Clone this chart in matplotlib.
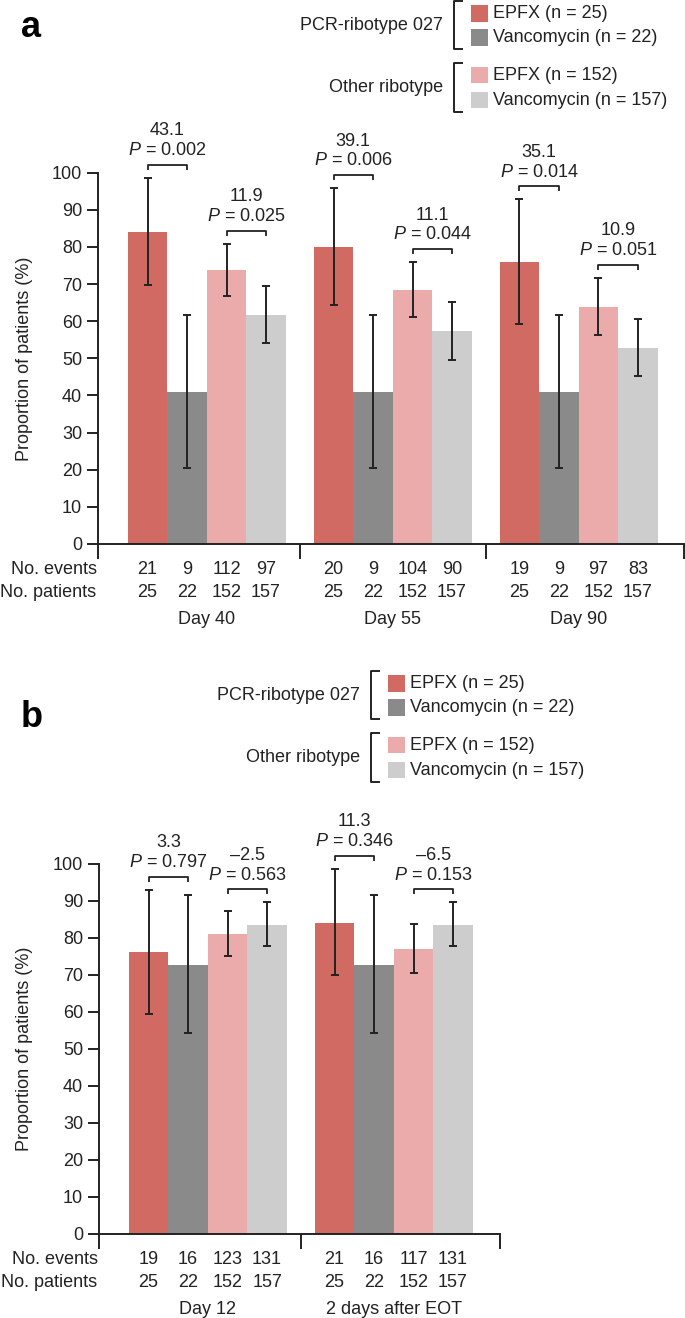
import numpy as np
import matplotlib
matplotlib.use("Agg")
import matplotlib.pyplot as plt
from matplotlib.patches import Rectangle
from matplotlib.lines import Line2D

plt.rcParams['font.family'] = ['Liberation Sans', 'DejaVu Sans']
plt.rcParams['mathtext.fontset'] = 'custom'
plt.rcParams['mathtext.it'] = 'Liberation Sans:italic'
plt.rcParams['mathtext.rm'] = 'Liberation Sans'

FS = 13
INK = '#222222'

# series order: EPFX 027, Vancomycin 027, EPFX other, Vancomycin other
series_labels = ['EPFX (n = 25)', 'Vancomycin (n = 22)', 'EPFX (n = 152)', 'Vancomycin (n = 157)']
colors = ['#D16A63', '#8A8A8A', '#EBABAB', '#CDCDCD']

# panel a
days_a = ['Day 40', 'Day 55', 'Day 90']
vals_a = [[84.0, 80.0, 76.0],
          [40.9, 40.9, 40.9],
          [73.7, 68.4, 63.8],
          [61.8, 57.3, 52.9]]
lo_a = [[69.8, 64.5, 59.3],
        [20.4, 20.4, 20.4],
        [66.8, 61.1, 56.2],
        [54.2, 49.6, 45.2]]
hi_a = [[98.6, 95.8, 92.8],
        [61.6, 61.6, 61.6],
        [80.8, 75.9, 71.6],
        [69.5, 65.1, 60.7]]
events_a = [[21, 20, 19], [9, 9, 9], [112, 104, 97], [97, 90, 83]]
patients_a = [[25, 25, 25], [22, 22, 22], [152, 152, 152], [157, 157, 157]]
diff_a = [['43.1', '11.9'], ['39.1', '11.1'], ['35.1', '10.9']]
pval_a = [['0.002', '0.025'], ['0.006', '0.044'], ['0.014', '0.051']]

# panel b
days_b = ['Day 12', '2 days after EOT']
vals_b = [[76.0, 84.0],
          [72.7, 72.7],
          [80.9, 77.0],
          [83.4, 83.4]]
lo_b = [[59.5, 69.8],
        [54.3, 54.3],
        [74.9, 70.4],
        [77.6, 77.6]]
hi_b = [[92.9, 98.5],
        [91.4, 91.4],
        [87.3, 83.7],
        [89.5, 89.5]]
events_b = [[19, 21], [16, 16], [123, 117], [131, 131]]
patients_b = [[25, 25], [22, 22], [152, 152], [157, 157]]
diff_b = [['3.3', '\u20132.5'], ['11.3', '\u20136.5']]
pval_b = [['0.797', '0.563'], ['0.346', '0.153']]

W, H = 685, 1318
fig = plt.figure(figsize=(W / 100, H / 100), dpi=100)


def fx(x):
    return x / W


def fy(y):
    return 1 - y / H


bw = 0.2124


def draw_panel(ax, days, vals, lo, hi, events, patients, diffs, pvals, xmax):
    n = len(days)
    g = np.arange(n)
    ax.set_xlim(-0.585, xmax)
    ax.set_ylim(0, 100)
    for i in range(4):
        x = g + (i - 1.5) * bw
        v = np.array(vals[i])
        ax.bar(x, v, width=bw, color=colors[i], edgecolor='none', zorder=1)
        ax.errorbar(x, v, yerr=[v - np.array(lo[i]), np.array(hi[i]) - v], fmt='none',
                    ecolor=INK, elinewidth=1.4, capsize=3, capthick=1.4, zorder=3, clip_on=False)
        for k in range(n):
            ax.annotate(str(events[i][k]), xy=(x[k], 0), xycoords=('data', 'axes fraction'),
                        xytext=(0, -18.7), textcoords='offset points', ha='center', va='center',
                        fontsize=FS, color=INK)
            ax.annotate(str(patients[i][k]), xy=(x[k], 0), xycoords=('data', 'axes fraction'),
                        xytext=(0, -34.6), textcoords='offset points', ha='center', va='center',
                        fontsize=FS, color=INK)
    for k in range(n):
        ax.annotate(days[k], xy=(g[k], 0), xycoords=('data', 'axes fraction'),
                    xytext=(0, -54), textcoords='offset points', ha='center', va='center',
                    fontsize=FS, color=INK)
        # comparison brackets
        for p in range(2):
            i1, i2 = 2 * p, 2 * p + 1
            x1 = g[k] + (i1 - 1.5) * bw
            x2 = g[k] + (i2 - 1.5) * bw
            yb = max(hi[i1][k], hi[i2][k]) + 3.5
            ax.plot([x1, x1, x2, x2], [yb - 1.3, yb, yb, yb - 1.3], color=INK, lw=1.3,
                    clip_on=False, solid_capstyle='butt')
            xm = (x1 + x2) / 2
            ax.annotate(r'$P$ = ' + pvals[k][p], xy=(xm, yb), xytext=(0, 10.3),
                        textcoords='offset points', ha='center', va='center', fontsize=FS,
                        color=INK, annotation_clip=False)
            ax.annotate(diffs[k][p], xy=(xm, yb), xytext=(0, 24.6),
                        textcoords='offset points', ha='center', va='center', fontsize=FS,
                        color=INK, annotation_clip=False)
    for lab, yo in [('No. events', -18.7), ('No. patients', -34.6)]:
        ax.annotate(lab, xy=(0, 0), xycoords='axes fraction', xytext=(-1, yo),
                    textcoords='offset points', ha='right', va='center', fontsize=FS, color=INK)

    ax.spines['top'].set_visible(False)
    ax.spines['right'].set_visible(False)
    for s in ['left', 'bottom']:
        ax.spines[s].set_linewidth(1.4)
        ax.spines[s].set_color(INK)
    ax.set_yticks(np.arange(0, 101, 10))
    ax.tick_params(axis='y', length=8, width=1.4, color=INK, pad=3.5, labelsize=FS, labelcolor=INK)
    ax.set_xticks(list(np.arange(n - 1) + 0.5) + [-0.585, xmax])
    ax.set_xticklabels([])
    ax.tick_params(axis='x', length=11, width=1.4, color=INK)
    ax.set_ylabel('Proportion of patients (%)', fontsize=FS, color=INK)


def draw_legend(dx, dy):
    ys = [13.3, 37.5, 75.0, 100.0]
    for i in range(4):
        yc = ys[i] + dy
        fig.add_artist(Rectangle((fx(471 + dx), fy(yc + 8.3)), 16.5 / W, 16.5 / H,
                                 transform=fig.transFigure, color=colors[i], lw=0))
        fig.text(fx(493 + dx), fy(yc + 0.5), series_labels[i], ha='left', va='center',
                 fontsize=FS, color=INK)
    for y0, y1, lab in [(1, 49, 'PCR-ribotype 027'), (63, 112, 'Other ribotype')]:
        bx = 454 + dx
        fig.add_artist(Line2D([fx(bx + 8), fx(bx), fx(bx), fx(bx + 8)],
                              [fy(y0 + dy), fy(y0 + dy), fy(y1 + dy), fy(y1 + dy)],
                              transform=fig.transFigure, color=INK, lw=1.4))
        fig.text(fx(443 + dx), fy((y0 + y1) / 2 + dy + 0.5), lab, ha='right', va='center',
                 fontsize=FS, color=INK)


ax_a = fig.add_axes([fx(98), fy(544), (684 - 98) / W, (544 - 172.7) / H])
draw_panel(ax_a, days_a, vals_a, lo_a, hi_a, events_a, patients_a, diff_a, pval_a, 2.566)
ax_a.yaxis.set_label_coords(-0.111, 0.5)

ax_b = fig.add_axes([fx(99), fy(1234), (500 - 99) / W, (1234 - 863.5) / H])
draw_panel(ax_b, days_b, vals_b, lo_b, hi_b, events_b, patients_b, diff_b, pval_b, 1.571)
ax_b.yaxis.set_label_coords(-0.1646, 0.5)

draw_legend(0, 0)
draw_legend(-83, 670)

fig.text(fx(21), fy(36.7), 'a', fontsize=26, fontweight='bold', ha='left', va='baseline', color='black')
fig.text(fx(21), fy(727), 'b', fontsize=26, fontweight='bold', ha='left', va='baseline', color='black')

fig.savefig('out.png', dpi=100)
